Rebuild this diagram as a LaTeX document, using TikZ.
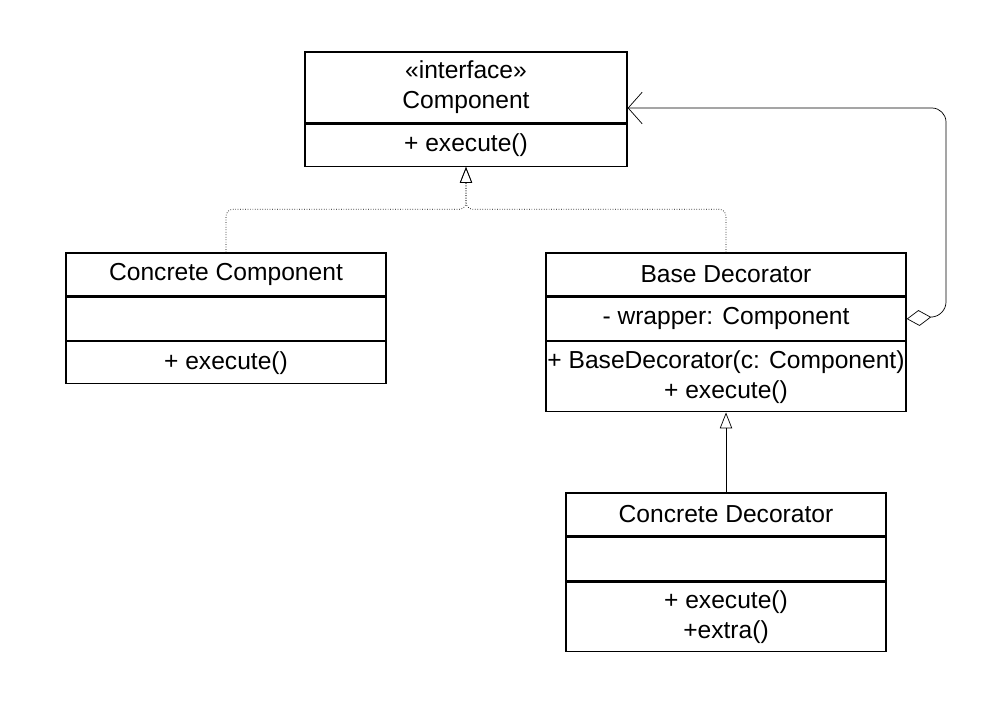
\documentclass[tikz,border=0pt]{standalone}
\usepackage{fontspec}
\setmainfont{Liberation Sans}
\usetikzlibrary{arrows.meta,positioning}
\tikzset{
  cell/.style={draw,thick,inner sep=0pt,align=center,font=\fontsize{14}{17}\selectfont},
  realize/.style={densely dotted,-{Triangle[open,length=9pt,width=7pt]}},
  inherit/.style={-{Triangle[open,length=9pt,width=7pt]}}
}
\begin{document}
\begin{tikzpicture}[x=0.02cm,y=-0.02cm]
    \useasboundingbox (0,0) rectangle (994,702);

    % Component
    \node[cell,minimum width=6.44cm,minimum height=1.42cm] (comp) at (466,87.5) {<<interface>>\\Component};
    \node[cell,minimum width=6.44cm,minimum height=0.84cm,below=0pt of comp] (compM) {+ execute()};

    % Concrete Component
    \node[cell,minimum width=6.4cm,minimum height=0.86cm] (cc) at (226,274.5) {Concrete Component};
    \node[cell,minimum width=6.4cm,minimum height=0.86cm,below=0pt of cc] (ccA) {};
    \node[cell,minimum width=6.4cm,minimum height=0.84cm,below=0pt of ccA] (ccM) {+ execute()};

    % Base Decorator
    \node[cell,minimum width=7.2cm,minimum height=0.86cm] (bd) at (726,274.5) {Base Decorator};
    \node[cell,minimum width=7.2cm,minimum height=0.86cm,below=0pt of bd] (bdA) {- wrapper: Component};
    \node[cell,minimum width=7.2cm,minimum height=1.4cm,below=0pt of bdA] (bdM) {+ BaseDecorator(c: Component)\\+ execute()};

    % Concrete Decorator
    \node[cell,minimum width=6.4cm,minimum height=0.86cm] (cd) at (726,514.5) {Concrete Decorator};
    \node[cell,minimum width=6.4cm,minimum height=0.86cm,below=0pt of cd] (cdA) {};
    \node[cell,minimum width=6.4cm,minimum height=1.4cm,below=0pt of cdA] (cdM) {+ execute()\\+extra()};

    % relations
    \draw[realize,rounded corners=4pt] (cc.north) -- ++(0,-43) -| (compM.south);
    \draw[realize,rounded corners=4pt] (bd.north) -- ++(0,-43) -| (compM.south);
    \draw[inherit] (cd.north) -- (bdM.south);
    \draw[{Diamond[open,length=14pt,width=9pt]}-{Straight Barb[length=8pt,width=18pt]},rounded corners=8pt]
        (bdA.east) -- (946,316) -- (946,108) -- (comp.east |- 0,108);
\end{tikzpicture}
\end{document}
